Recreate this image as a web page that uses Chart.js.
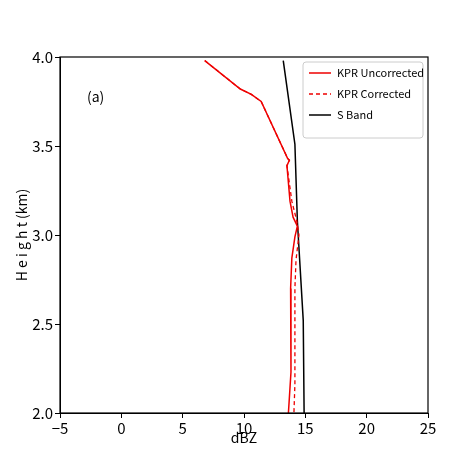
<!DOCTYPE html><html><head><meta charset="utf-8"><script src="https://cdn.jsdelivr.net/npm/chart.js@4"></script>
<style>html,body{margin:0;background:#fff}#w{width:474px;height:474px}</style></head><body><div id="w"><canvas id="c"></canvas></div><script>
const uncorrDBZ=[6.8,9.7,10.6,11.4,13.56,13.7,13.5,13.75,14.0,14.35,14.15,13.9,13.8,13.83,13.62];
const uncorrH=[3.98,3.82,3.79,3.75,3.43,3.42,3.39,3.19,3.10,3.05,2.99,2.87,2.70,2.23,2.0];
const corrDBZ=[6.8,9.7,10.6,11.4,13.56,13.7,13.5,13.9,14.3,14.48,14.24,14.15,14.15,14.07];
const corrH=[3.98,3.82,3.79,3.75,3.43,3.42,3.39,3.19,3.08,3.0,2.86,2.70,2.16,2.0];
const sDBZ=[13.2,14.15,14.35,14.83,14.9];
const sH=[3.98,3.51,3.08,2.52,2.0];
const xTicks=[-5,0,5,10,15,20,25];
const yTicks=[2.0,2.5,3.0,3.5,4.0];
const pts=(a,b)=>a.map((v,i)=>({x:v,y:b[i]}));
const F="'Noto Sans CJK SC', sans-serif";
const ann={id:'ann',afterDraw(ch){const c=ch.ctx,a=ch.chartArea;c.save();
c.strokeStyle='#000';c.lineWidth=1.2;c.strokeRect(a.left,a.top,a.right-a.left,a.bottom-a.top);
c.font='14px '+F;c.fillStyle='#000';c.textBaseline='middle';c.fillText('(a)',87,97);
c.textAlign='center';c.fillText('dBZ',(a.left+a.right)/2,438);
c.save();c.translate(22,(a.top+a.bottom)/2);c.rotate(-Math.PI/2);c.fillText('H e i g h t (km)',0,0);c.restore();
c.textAlign='left';
c.strokeStyle='#ccc';c.lineWidth=1;c.fillStyle='rgba(255,255,255,0.85)';
c.beginPath();c.roundRect(303,62,120,76,3);c.fill();c.stroke();
const it=[['KPR Uncorrected','#e00',[]],['KPR Corrected','#e00',[4,3]],['S Band','#000',[]]];
c.font='11px '+F;
it.forEach((t,i)=>{const y=73+i*21;c.strokeStyle=t[1];c.lineWidth=1.5;c.setLineDash(t[2]);c.beginPath();c.moveTo(309,y);c.lineTo(331,y);c.stroke();c.setLineDash([]);c.fillStyle='#000';c.fillText(t[0],337,y);});
c.restore();}};
new Chart(document.getElementById('c'),{type:'scatter',data:{datasets:[
{data:pts(uncorrDBZ,uncorrH),showLine:true,borderColor:'#e00',borderWidth:1.5,pointRadius:0},
{data:pts(corrDBZ,corrH),showLine:true,borderColor:'#e00',borderDash:[4,3],borderWidth:1.3,pointRadius:0},
{data:pts(sDBZ,sH),showLine:true,borderColor:'#000',borderWidth:1.5,pointRadius:0}]},
options:{animation:false,responsive:true,maintainAspectRatio:false,layout:{padding:{top:57,right:46}},
plugins:{legend:{display:false},tooltip:{enabled:false}},
scales:{x:{type:'linear',min:-5,max:25,afterBuildTicks:s=>{s.ticks=xTicks.map(v=>({value:v}))},afterFit:s=>{s.height=61},
grid:{drawOnChartArea:false,drawTicks:true,tickLength:5,color:'#000'},border:{color:'#000'},ticks:{color:'#000',font:{size:15,family:F},callback:v=>v<0?'\u2212'+(-v):v,padding:1}},
y:{type:'linear',min:2,max:4,afterBuildTicks:s=>{s.ticks=yTicks.map(v=>({value:v}))},afterFit:s=>{s.width=60},
grid:{drawOnChartArea:false,drawTicks:true,tickLength:5,color:'#000'},border:{color:'#000'},ticks:{color:'#000',font:{size:15,family:F},callback:v=>v.toFixed(1),padding:2}}}},plugins:[ann]});
</script></body></html>
